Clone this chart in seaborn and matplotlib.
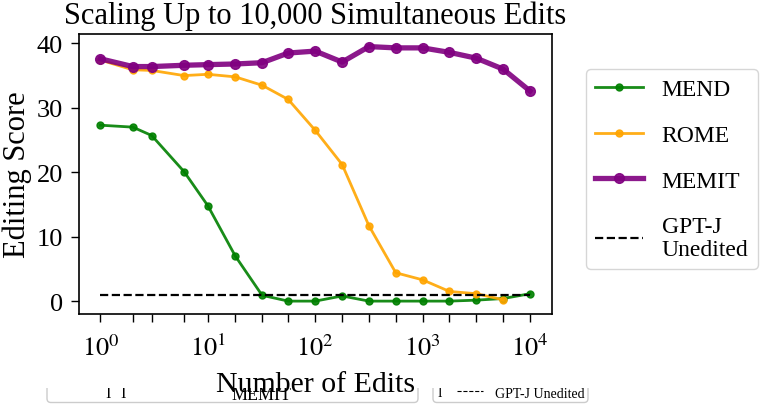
import matplotlib
matplotlib.use("Agg")
import matplotlib.pyplot as plt
import numpy as np
import pandas as pd
import seaborn as sns
from matplotlib.patches import FancyBboxPatch
from matplotlib.ticker import FixedLocator, FuncFormatter, NullLocator

# data
edits = [1, 2, 3, 6, 10, 18, 32, 56, 100, 178, 316, 562, 1000, 1778, 3162, 5623, 10000]
mend = [27.3, 27.0, 25.7, 20.1, 14.8, 7.0, 0.9, 0.0, 0.0, 0.8, 0.0, 0.0, 0.0, 0.0, 0.15, 0.4, 1.15]
rome = [37.4, 35.9, 35.8, 35.0, 35.2, 34.8, 33.5, 31.3, 26.5, 21.2, 11.7, 4.4, 3.3, 1.5, 1.15, 0.2]
memit = [37.6, 36.4, 36.4, 36.6, 36.7, 36.8, 37.0, 38.5, 38.8, 37.1, 39.5, 39.3, 39.3, 38.6, 37.7, 36.0, 32.6]
gptj_unedited = 0.93

plt.rcParams['mathtext.fontset'] = 'stix'
plt.rcParams['font.family'] = ['Liberation Serif', 'DejaVu Serif']

fig = plt.figure(figsize=(7.61, 4.06), dpi=100)
ax = fig.add_axes([79 / 761, 1 - 315 / 406, 472.5 / 761, 280.3 / 406])

series = [
    ("MEND", mend, "green", 2.0, 5),
    ("ROME", rome, "orange", 2.0, 5),
    ("MEMIT", memit, "purple", 3.8, 7),
]
for name, vals, color, lw, ms in series:
    df = pd.DataFrame({"edits": edits[:len(vals)], "score": vals})
    sns.lineplot(data=df, x="edits", y="score", ax=ax, color=color, lw=lw,
                 marker="o", markersize=ms, markeredgecolor=color,
                 markeredgewidth=1.0, alpha=0.9, label=name, legend=False)

base = pd.DataFrame({"edits": [edits[0], edits[-1]], "score": [gptj_unedited] * 2})
sns.lineplot(data=base, x="edits", y="score", ax=ax, color="black", lw=1.6,
             linestyle="--", label="GPT-J\nUnedited", legend=False)

ax.set_xscale("log")
ax.set_ylim(-2.0, 41.5)
ax.xaxis.set_major_locator(FixedLocator(edits))
ax.xaxis.set_minor_locator(NullLocator())


def decade_label(v, pos):
    k = np.log10(v)
    if abs(k - round(k)) < 1e-6:
        return r"$10^{%d}$" % round(k)
    return ""


ax.xaxis.set_major_formatter(FuncFormatter(decade_label))
ax.set_yticks([0, 10, 20, 30, 40])
ax.tick_params(axis="both", labelsize=19, length=5.5, width=1)
ax.tick_params(axis="x", pad=9)
ax.tick_params(axis="y", pad=6)
for s in ax.spines.values():
    s.set_linewidth(1.2)

ax.set_title("Scaling Up to 10,000 Simultaneous Edits", fontsize=22, pad=8)
ax.set_xlabel("Number of Edits", fontsize=21.5, labelpad=8)
ax.set_ylabel("Editing Score", fontsize=22, labelpad=3)

handles, labels = ax.get_legend_handles_labels()
leg = fig.legend(handles, labels, loc="upper left", bbox_to_anchor=(586 / 761, 1 - 70 / 406),
                 borderaxespad=0, fontsize=17, labelspacing=1.03, handlelength=2.0)
for t in leg.get_texts():
    t.set_linespacing(1.1)

# cut-off strip of a second legend at the very bottom of the picture
bax = fig.add_axes([0, 0, 1, 17 / 406])
bax.set_zorder(-1)
bax.set_xlim(0, 761)
bax.set_ylim(406, 389)
bax.axis("off")
for x0, w in [(47, 371), (433, 155)]:
    bax.add_patch(FancyBboxPatch((x0, 360), w, 43.5, boxstyle="round,pad=0,rounding_size=4",
                                 facecolor="white", edgecolor="0.8", lw=1.0))
bax.text(108, 398, "I", fontsize=12, ha="center", va="baseline", clip_on=True)
bax.text(123, 398, "I", fontsize=12, ha="center", va="baseline", clip_on=True)
bax.text(262, 400, "MEMIT", fontsize=13, ha="center", va="baseline", clip_on=True)
bax.text(440, 397, "I", fontsize=10, ha="center", va="baseline", clip_on=True)
bax.plot([457, 483], [392, 392], color="black", lw=0.8, ls="--")
bax.text(495, 398, "GPT-J Unedited", fontsize=10, ha="left", va="baseline", clip_on=True)

fig.savefig("out.png", dpi=100)
